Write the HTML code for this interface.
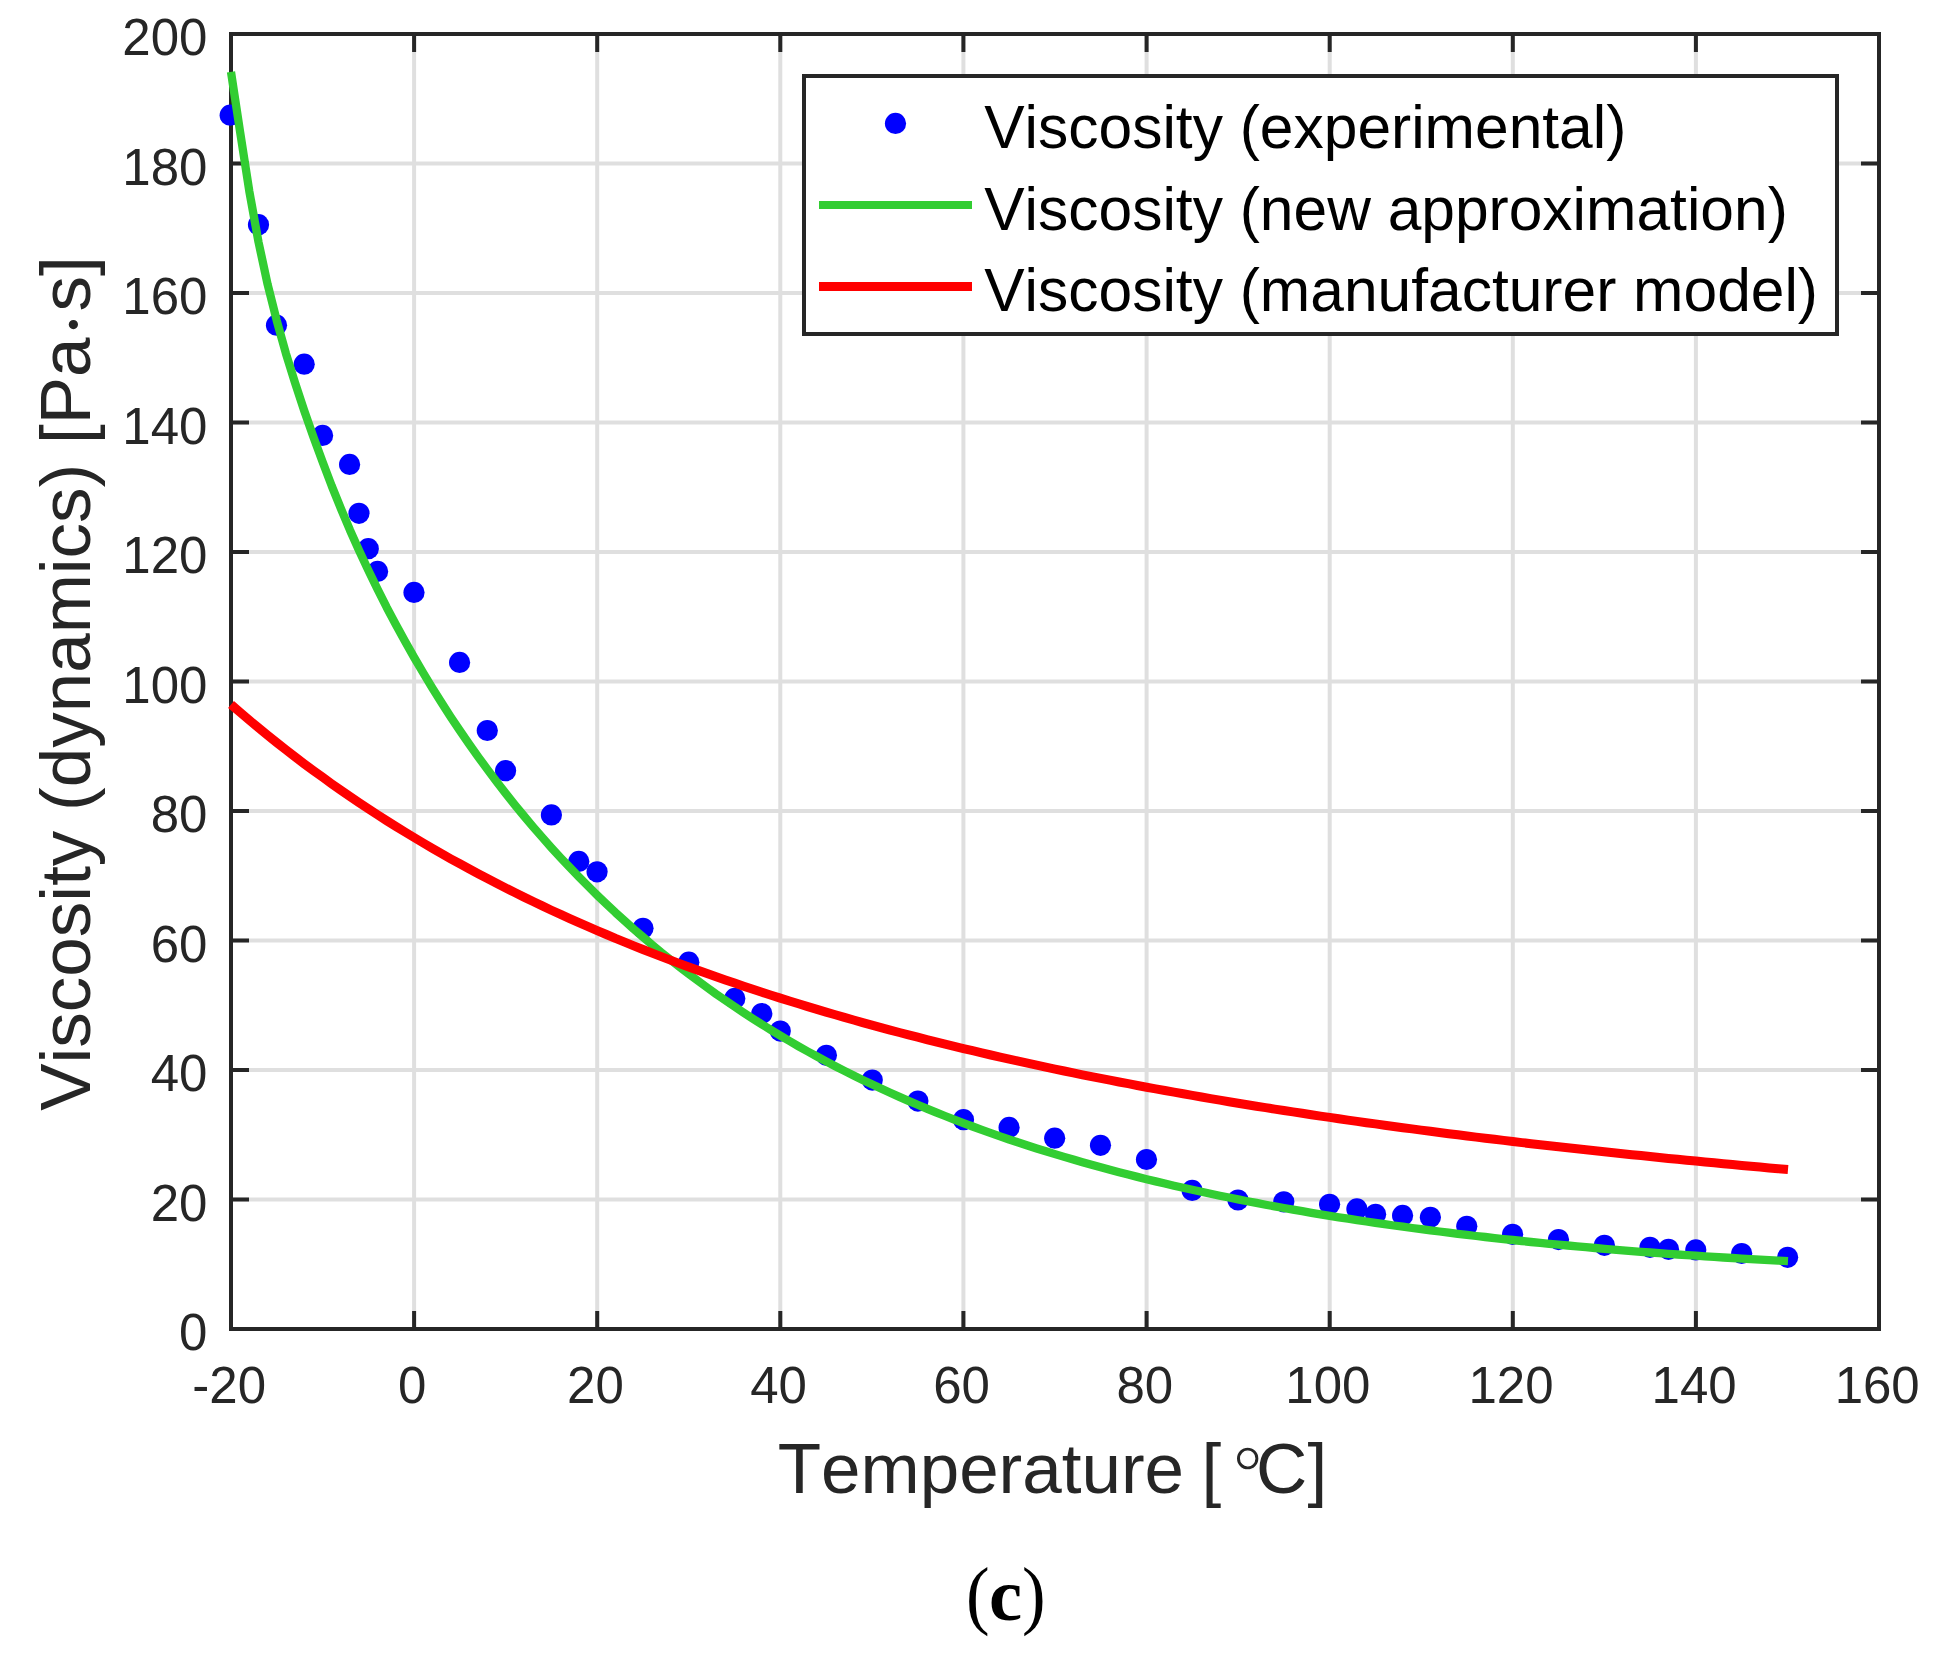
<!DOCTYPE html>
<html lang="en"><head><meta charset="utf-8"><title>Viscosity vs temperature (c)</title>
<style>
html,body{margin:0;padding:0;background:#fff}
body{width:1952px;height:1658px;overflow:hidden}
svg{display:block}
.s{font-family:"Liberation Sans",sans-serif;font-kerning:none;font-feature-settings:"kern" 0,"liga" 0}
.tk{font-size:51px;fill:#262626}
.lb{font-size:71px;fill:#262626}
.lg{font-size:60.5px;fill:#000}
.sd{font-family:"Liberation Serif",serif;font-size:78px}
.cap{font-kerning:none;font-family:"Liberation Serif",serif;font-size:76px;fill:#000}
</style></head><body>
<svg width="1952" height="1658" viewBox="0 0 1952 1658">
<rect width="1952" height="1658" fill="#fff"/>

<g stroke="#dfdfdf" stroke-width="4" fill="none">
<line x1="414.1" y1="34.0" x2="414.1" y2="1329.0"/>
<line x1="597.2" y1="34.0" x2="597.2" y2="1329.0"/>
<line x1="780.3" y1="34.0" x2="780.3" y2="1329.0"/>
<line x1="963.4" y1="34.0" x2="963.4" y2="1329.0"/>
<line x1="1146.6" y1="34.0" x2="1146.6" y2="1329.0"/>
<line x1="1329.7" y1="34.0" x2="1329.7" y2="1329.0"/>
<line x1="1512.8" y1="34.0" x2="1512.8" y2="1329.0"/>
<line x1="1695.9" y1="34.0" x2="1695.9" y2="1329.0"/>
<line x1="231.0" y1="1199.5" x2="1879.0" y2="1199.5"/>
<line x1="231.0" y1="1070.0" x2="1879.0" y2="1070.0"/>
<line x1="231.0" y1="940.5" x2="1879.0" y2="940.5"/>
<line x1="231.0" y1="811.0" x2="1879.0" y2="811.0"/>
<line x1="231.0" y1="681.5" x2="1879.0" y2="681.5"/>
<line x1="231.0" y1="552.0" x2="1879.0" y2="552.0"/>
<line x1="231.0" y1="422.5" x2="1879.0" y2="422.5"/>
<line x1="231.0" y1="293.0" x2="1879.0" y2="293.0"/>
<line x1="231.0" y1="163.5" x2="1879.0" y2="163.5"/>
</g>
<g stroke="#262626" stroke-width="4" fill="none">
<rect x="231.0" y="34.0" width="1648.0" height="1295.0"/>
<line x1="414.1" y1="1329.0" x2="414.1" y2="1311.0"/><line x1="414.1" y1="34.0" x2="414.1" y2="52.0"/>
<line x1="597.2" y1="1329.0" x2="597.2" y2="1311.0"/><line x1="597.2" y1="34.0" x2="597.2" y2="52.0"/>
<line x1="780.3" y1="1329.0" x2="780.3" y2="1311.0"/><line x1="780.3" y1="34.0" x2="780.3" y2="52.0"/>
<line x1="963.4" y1="1329.0" x2="963.4" y2="1311.0"/><line x1="963.4" y1="34.0" x2="963.4" y2="52.0"/>
<line x1="1146.6" y1="1329.0" x2="1146.6" y2="1311.0"/><line x1="1146.6" y1="34.0" x2="1146.6" y2="52.0"/>
<line x1="1329.7" y1="1329.0" x2="1329.7" y2="1311.0"/><line x1="1329.7" y1="34.0" x2="1329.7" y2="52.0"/>
<line x1="1512.8" y1="1329.0" x2="1512.8" y2="1311.0"/><line x1="1512.8" y1="34.0" x2="1512.8" y2="52.0"/>
<line x1="1695.9" y1="1329.0" x2="1695.9" y2="1311.0"/><line x1="1695.9" y1="34.0" x2="1695.9" y2="52.0"/>
<line x1="231.0" y1="1199.5" x2="249.0" y2="1199.5"/><line x1="1879.0" y1="1199.5" x2="1861.0" y2="1199.5"/>
<line x1="231.0" y1="1070.0" x2="249.0" y2="1070.0"/><line x1="1879.0" y1="1070.0" x2="1861.0" y2="1070.0"/>
<line x1="231.0" y1="940.5" x2="249.0" y2="940.5"/><line x1="1879.0" y1="940.5" x2="1861.0" y2="940.5"/>
<line x1="231.0" y1="811.0" x2="249.0" y2="811.0"/><line x1="1879.0" y1="811.0" x2="1861.0" y2="811.0"/>
<line x1="231.0" y1="681.5" x2="249.0" y2="681.5"/><line x1="1879.0" y1="681.5" x2="1861.0" y2="681.5"/>
<line x1="231.0" y1="552.0" x2="249.0" y2="552.0"/><line x1="1879.0" y1="552.0" x2="1861.0" y2="552.0"/>
<line x1="231.0" y1="422.5" x2="249.0" y2="422.5"/><line x1="1879.0" y1="422.5" x2="1861.0" y2="422.5"/>
<line x1="231.0" y1="293.0" x2="249.0" y2="293.0"/><line x1="1879.0" y1="293.0" x2="1861.0" y2="293.0"/>
<line x1="231.0" y1="163.5" x2="249.0" y2="163.5"/><line x1="1879.0" y1="163.5" x2="1861.0" y2="163.5"/>
</g>
<g fill="#0000ff">
<circle cx="230.2" cy="115.2" r="10.6"/>
<circle cx="258.5" cy="224.7" r="10.6"/>
<circle cx="276.5" cy="325.2" r="10.6"/>
<circle cx="304.2" cy="364.2" r="10.6"/>
<circle cx="322.6" cy="435.4" r="10.6"/>
<circle cx="349.6" cy="464.4" r="10.6"/>
<circle cx="359.0" cy="513.3" r="10.6"/>
<circle cx="368.3" cy="548.7" r="10.6"/>
<circle cx="377.6" cy="571.4" r="10.6"/>
<circle cx="414.0" cy="592.4" r="10.6"/>
<circle cx="459.6" cy="662.4" r="10.6"/>
<circle cx="487.3" cy="730.5" r="10.6"/>
<circle cx="505.6" cy="770.7" r="10.6"/>
<circle cx="551.4" cy="814.9" r="10.6"/>
<circle cx="578.8" cy="861.4" r="10.6"/>
<circle cx="597.1" cy="871.8" r="10.6"/>
<circle cx="643.0" cy="928.3" r="10.6"/>
<circle cx="688.8" cy="962.2" r="10.6"/>
<circle cx="734.8" cy="998.4" r="10.6"/>
<circle cx="761.8" cy="1013.5" r="10.6"/>
<circle cx="780.3" cy="1031.1" r="10.6"/>
<circle cx="826.4" cy="1055.3" r="10.6"/>
<circle cx="872.3" cy="1080.1" r="10.6"/>
<circle cx="917.9" cy="1101.1" r="10.6"/>
<circle cx="963.5" cy="1119.7" r="10.6"/>
<circle cx="1009.1" cy="1127.4" r="10.6"/>
<circle cx="1054.7" cy="1138.2" r="10.6"/>
<circle cx="1100.5" cy="1145.3" r="10.6"/>
<circle cx="1146.5" cy="1159.5" r="10.6"/>
<circle cx="1192.2" cy="1190.4" r="10.6"/>
<circle cx="1238.0" cy="1200.0" r="10.6"/>
<circle cx="1283.8" cy="1201.8" r="10.6"/>
<circle cx="1329.6" cy="1204.3" r="10.6"/>
<circle cx="1356.9" cy="1208.9" r="10.6"/>
<circle cx="1375.6" cy="1214.3" r="10.6"/>
<circle cx="1402.6" cy="1215.4" r="10.6"/>
<circle cx="1430.4" cy="1217.3" r="10.6"/>
<circle cx="1466.8" cy="1226.3" r="10.6"/>
<circle cx="1512.6" cy="1234.3" r="10.6"/>
<circle cx="1558.5" cy="1239.6" r="10.6"/>
<circle cx="1604.4" cy="1245.3" r="10.6"/>
<circle cx="1650.0" cy="1247.3" r="10.6"/>
<circle cx="1668.5" cy="1249.3" r="10.6"/>
<circle cx="1695.8" cy="1249.9" r="10.6"/>
<circle cx="1741.7" cy="1253.5" r="10.6"/>
<circle cx="1787.6" cy="1257.3" r="10.6"/>
</g>
<polyline points="231.0,71.8 240.2,132.5 249.3,191.2 258.5,242.0 267.6,284.3 276.8,320.8 285.9,353.4 295.1,383.1 304.2,410.6 313.4,436.8 322.6,461.9 331.7,485.9 340.9,508.6 350.0,530.2 359.2,550.7 368.3,570.3 377.5,589.1 386.6,607.2 395.8,624.5 405.0,641.3 414.1,657.4 423.3,673.0 432.4,688.1 441.6,702.8 450.7,716.9 459.9,730.6 469.0,743.9 478.2,756.8 487.4,769.4 496.5,781.5 505.7,793.4 514.8,804.8 524.0,816.0 533.1,826.8 542.3,837.4 551.4,847.7 560.6,857.7 569.8,867.4 578.9,876.9 588.1,886.2 597.2,895.2 606.4,904.0 615.5,912.6 624.7,920.9 633.8,929.1 643.0,937.0 652.2,944.8 661.3,952.4 670.5,959.7 679.6,966.9 688.8,974.0 697.9,980.8 707.1,987.5 716.2,994.1 725.4,1000.4 734.6,1006.7 743.7,1012.7 752.9,1018.7 762.0,1024.5 771.2,1030.1 780.3,1035.6 789.5,1041.0 798.6,1046.3 807.8,1051.5 817.0,1056.5 826.1,1061.4 835.3,1066.2 844.4,1070.9 853.6,1075.5 862.7,1079.9 871.9,1084.3 881.0,1088.6 890.2,1092.8 899.4,1096.9 908.5,1100.9 917.7,1104.8 926.8,1108.6 936.0,1112.4 945.1,1116.0 954.3,1119.6 963.4,1123.1 972.6,1126.5 981.8,1129.9 990.9,1133.1 1000.1,1136.3 1009.2,1139.5 1018.4,1142.5 1027.5,1145.5 1036.7,1148.5 1045.8,1151.3 1055.0,1154.1 1064.2,1156.9 1073.3,1159.6 1082.5,1162.2 1091.6,1164.8 1100.8,1167.3 1109.9,1169.8 1119.1,1172.2 1128.2,1174.6 1137.4,1176.9 1146.6,1179.2 1155.7,1181.4 1164.9,1183.5 1174.0,1185.7 1183.2,1187.8 1192.3,1189.8 1201.5,1191.8 1210.6,1193.7 1219.8,1195.7 1229.0,1197.5 1238.1,1199.4 1247.3,1201.2 1256.4,1202.9 1265.6,1204.7 1274.7,1206.4 1283.9,1208.0 1293.0,1209.6 1302.2,1211.2 1311.4,1212.8 1320.5,1214.3 1329.7,1215.8 1338.8,1217.3 1348.0,1218.7 1357.1,1220.1 1366.3,1221.5 1375.4,1222.8 1384.6,1224.2 1393.8,1225.5 1402.9,1226.7 1412.1,1228.0 1421.2,1229.2 1430.4,1230.4 1439.5,1231.5 1448.7,1232.7 1457.8,1233.8 1467.0,1234.9 1476.2,1236.0 1485.3,1237.0 1494.5,1238.1 1503.6,1239.1 1512.8,1240.0 1521.9,1241.0 1531.1,1242.0 1540.2,1242.9 1549.4,1243.8 1558.6,1244.7 1567.7,1245.5 1576.9,1246.4 1586.0,1247.2 1595.2,1248.0 1604.3,1248.8 1613.5,1249.6 1622.6,1250.3 1631.8,1251.1 1641.0,1251.8 1650.1,1252.5 1659.3,1253.2 1668.4,1253.8 1677.6,1254.5 1686.7,1255.1 1695.9,1255.7 1705.0,1256.3 1714.2,1256.9 1723.4,1257.5 1732.5,1258.0 1741.7,1258.6 1750.8,1259.1 1760.0,1259.6 1769.1,1260.1 1778.3,1260.6 1788.0,1261.1" fill="none" stroke="#32cd32" stroke-width="8.3" stroke-linejoin="round"/>
<polyline points="231.0,704.5 240.2,712.4 249.3,720.2 258.5,727.8 267.6,735.3 276.8,742.6 285.9,749.8 295.1,756.9 304.2,763.8 313.4,770.6 322.6,777.2 331.7,783.8 340.9,790.2 350.0,796.5 359.2,802.7 368.3,808.8 377.5,814.7 386.6,820.6 395.8,826.3 405.0,832.0 414.1,837.5 423.3,843.0 432.4,848.3 441.6,853.6 450.7,858.8 459.9,863.8 469.0,868.8 478.2,873.8 487.4,878.6 496.5,883.3 505.7,888.0 514.8,892.6 524.0,897.1 533.1,901.5 542.3,905.9 551.4,910.2 560.6,914.4 569.8,918.6 578.9,922.7 588.1,926.7 597.2,930.6 606.4,934.5 615.5,938.4 624.7,942.1 633.8,945.8 643.0,949.5 652.2,953.1 661.3,956.6 670.5,960.1 679.6,963.6 688.8,967.0 697.9,970.3 707.1,973.6 716.2,976.8 725.4,980.0 734.6,983.1 743.7,986.2 752.9,989.3 762.0,992.3 771.2,995.2 780.3,998.1 789.5,1001.0 798.6,1003.8 807.8,1006.6 817.0,1009.4 826.1,1012.1 835.3,1014.8 844.4,1017.4 853.6,1020.0 862.7,1022.6 871.9,1025.1 881.0,1027.6 890.2,1030.1 899.4,1032.5 908.5,1034.9 917.7,1037.2 926.8,1039.6 936.0,1041.9 945.1,1044.1 954.3,1046.4 963.4,1048.6 972.6,1050.7 981.8,1052.9 990.9,1055.0 1000.1,1057.1 1009.2,1059.2 1018.4,1061.2 1027.5,1063.2 1036.7,1065.2 1045.8,1067.2 1055.0,1069.1 1064.2,1071.0 1073.3,1072.9 1082.5,1074.8 1091.6,1076.6 1100.8,1078.4 1109.9,1080.2 1119.1,1082.0 1128.2,1083.7 1137.4,1085.5 1146.6,1087.2 1155.7,1088.9 1164.9,1090.5 1174.0,1092.2 1183.2,1093.8 1192.3,1095.4 1201.5,1097.0 1210.6,1098.6 1219.8,1100.1 1229.0,1101.7 1238.1,1103.2 1247.3,1104.7 1256.4,1106.2 1265.6,1107.6 1274.7,1109.1 1283.9,1110.5 1293.0,1111.9 1302.2,1113.3 1311.4,1114.7 1320.5,1116.1 1329.7,1117.4 1338.8,1118.7 1348.0,1120.1 1357.1,1121.4 1366.3,1122.7 1375.4,1123.9 1384.6,1125.2 1393.8,1126.5 1402.9,1127.7 1412.1,1128.9 1421.2,1130.1 1430.4,1131.3 1439.5,1132.5 1448.7,1133.7 1457.8,1134.8 1467.0,1136.0 1476.2,1137.1 1485.3,1138.2 1494.5,1139.3 1503.6,1140.4 1512.8,1141.5 1521.9,1142.6 1531.1,1143.7 1540.2,1144.7 1549.4,1145.8 1558.6,1146.8 1567.7,1147.8 1576.9,1148.8 1586.0,1149.8 1595.2,1150.8 1604.3,1151.8 1613.5,1152.8 1622.6,1153.7 1631.8,1154.7 1641.0,1155.6 1650.1,1156.5 1659.3,1157.5 1668.4,1158.4 1677.6,1159.3 1686.7,1160.2 1695.9,1161.1 1705.0,1161.9 1714.2,1162.8 1723.4,1163.7 1732.5,1164.5 1741.7,1165.4 1750.8,1166.2 1760.0,1167.0 1769.1,1167.9 1778.3,1168.7 1788.0,1169.5" fill="none" stroke="#ff0000" stroke-width="9.0" stroke-linejoin="round"/>
<g class="s tk" text-anchor="middle">
<text x="229.2" y="1403">-20</text>
<text x="412.3" y="1403">0</text>
<text x="595.4" y="1403">20</text>
<text x="778.5" y="1403">40</text>
<text x="961.6" y="1403">60</text>
<text x="1144.8" y="1403">80</text>
<text x="1327.9" y="1403">100</text>
<text x="1511.0" y="1403">120</text>
<text x="1694.1" y="1403">140</text>
<text x="1877.2" y="1403">160</text>
</g><g class="s tk" text-anchor="end">
<text x="207.4" y="1350.0">0</text>
<text x="207.4" y="1220.5">20</text>
<text x="207.4" y="1091.0">40</text>
<text x="207.4" y="961.5">60</text>
<text x="207.4" y="832.0">80</text>
<text x="207.4" y="702.5">100</text>
<text x="207.4" y="573.0">120</text>
<text x="207.4" y="443.5">140</text>
<text x="207.4" y="314.0">160</text>
<text x="207.4" y="184.5">180</text>
<text x="207.4" y="55.0">200</text>
</g>
<text class="s lb" y="1493" xml:space="preserve"><tspan x="777.65">Temperature </tspan><tspan x="1201.55">[ </tspan><tspan x="1231.6" dy="10.6" font-size="81px" stroke="#fff" stroke-width="1.3">°</tspan><tspan x="1256.05" dy="-10.6">C</tspan><tspan x="1307.55">]</tspan></text>
<text class="s lb" transform="translate(90,683.5) rotate(-90)" text-anchor="middle">Viscosity (dynamics) [Pa<tspan class="sd" dy="9.4">·</tspan><tspan dy="-9.4">s]</tspan></text>
<rect x="804" y="76" width="1033" height="258" fill="#fff" stroke="#262626" stroke-width="4"/>
<circle cx="895.5" cy="123.4" r="10.6" fill="#0000ff"/>
<line x1="819" y1="205" x2="972" y2="205" stroke="#32cd32" stroke-width="8"/>
<line x1="819" y1="286.45" x2="972" y2="286.45" stroke="#ff0000" stroke-width="9"/>
<g class="s lg"><text x="984.2" y="148.0">Viscosity (experimental)</text><text x="984.2" y="229.8">Viscosity (new approximation)</text><text x="984.2" y="311.2">Viscosity (manufacturer model)</text></g>
<text class="cap" y="1620.2"><tspan x="966" font-size="77px" textLength="23.6" lengthAdjust="spacingAndGlyphs">(</tspan><tspan x="989" font-weight="bold" font-size="74.5px">c</tspan><tspan x="1022" font-size="77px" textLength="23.6" lengthAdjust="spacingAndGlyphs">)</tspan></text>
</svg></body></html>
